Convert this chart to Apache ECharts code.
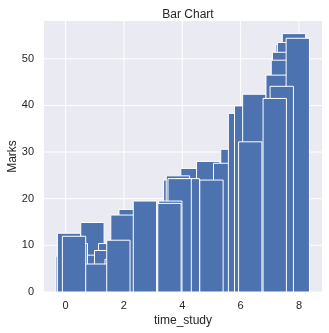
<!DOCTYPE html>
<html>
<head>
<meta charset="utf-8">
<script src="https://cdn.jsdelivr.net/npm/echarts@6/dist/echarts.min.js"></script>
<style>
  html, body { margin: 0; padding: 0; background: #ffffff; }
  #chart { width: 329px; height: 333px; }
</style>
</head>
<body>
<div id="chart"></div>
<script>
// Study time (hours) and marks, listed in the order the bars are drawn
// (later bars sit on top of earlier ones).
const timeStudy = [
  0.07, 0.12, 0.92, 0.35, 1.15, 1.53, 1.39, 1.75, 1.08, 0.29,
  2.23, 1.95, 1.81, 2.72, 4.35, 4.89, 3.76, 3.85, 4.19, 3.91,
  3.59, 3.56, 5.72, 5.47, 5.00, 5.98, 6.19, 6.47, 6.33, 7.83,
  7.61, 7.66, 7.49, 7.45, 7.27, 7.96, 7.41, 7.17
];
const marks = [
  7.7, 12.6, 14.9, 10.4, 7.9, 10.4, 8.9, 7.0, 6.0, 11.95,
  17.7, 16.5, 11.1, 19.5, 26.5, 28.0, 24.0, 24.9, 24.3, 24.3,
  19.5, 19.0, 30.6, 27.6, 24.0, 38.3, 39.9, 42.4, 32.2, 55.4,
  53.1, 53.5, 51.4, 49.7, 46.5, 54.4, 44.1, 41.5
];
const xTicks = [0, 2, 4, 6, 8];
const yTicks = [0, 10, 20, 30, 40, 50];

const xRange = [-0.74, 8.79];
const yRange = [0, 58.1];
const barWidth = 0.8;
const textColor = '#262626';
const font = 'Liberation Sans, Arial, sans-serif';

const chart = echarts.init(document.getElementById('chart'), null, { renderer: 'canvas' });

// Gridlines are drawn as a series so they land exactly on the tick values.
const gridLines = {
  type: 'custom',
  silent: true,
  z: 1,
  data: [0],
  renderItem: function (params, api) {
    const children = [];
    xTicks.forEach(function (v) {
      const a = api.coord([v, yRange[0]]);
      const b = api.coord([v, yRange[1]]);
      children.push({ type: 'line', shape: { x1: a[0], y1: a[1], x2: b[0], y2: b[1] },
        style: { stroke: '#ffffff', lineWidth: 1 } });
    });
    yTicks.forEach(function (v) {
      const a = api.coord([xRange[0], v]);
      const b = api.coord([xRange[1], v]);
      children.push({ type: 'line', shape: { x1: a[0], y1: a[1], x2: b[0], y2: b[1] },
        style: { stroke: '#ffffff', lineWidth: 1 } });
    });
    return { type: 'group', children: children };
  }
};

chart.setOption({
  animation: false,
  backgroundColor: '#ffffff',
  title: {
    text: 'Bar Chart',
    left: 183,
    top: 4,
    textAlign: 'center',
    textStyle: { fontFamily: font, fontSize: 12, fontWeight: 'normal', color: textColor }
  },
  grid: {
    left: 44, right: 7, top: 21, bottom: 41,
    containLabel: false,
    outerBoundsMode: 'none',
    show: true,
    backgroundColor: '#EAEAF2',
    borderWidth: 0
  },
  xAxis: {
    type: 'value',
    min: xRange[0],
    max: xRange[1],
    name: 'time_study',
    nameLocation: 'middle',
    nameGap: 23,
    nameMoveOverlap: false,
    nameTextStyle: { fontFamily: font, fontSize: 12, color: textColor },
    axisLine: { show: false },
    axisTick: { show: false, customValues: xTicks },
    axisLabel: {
      fontFamily: font, fontSize: 11, color: textColor, margin: 8,
      customValues: xTicks
    },
    splitLine: { show: false }
  },
  yAxis: {
    type: 'value',
    min: yRange[0],
    max: yRange[1],
    name: 'Marks',
    nameLocation: 'middle',
    nameGap: 25,
    nameMoveOverlap: false,
    nameTextStyle: { fontFamily: font, fontSize: 12, color: textColor },
    axisLine: { show: false },
    axisTick: { show: false, customValues: yTicks },
    axisLabel: {
      fontFamily: font, fontSize: 11, color: textColor, margin: 10,
      customValues: yTicks
    },
    splitLine: { show: false }
  },
  series: [gridLines, {
    type: 'custom',
    z: 2,
    data: timeStudy.map((t, i) => [t, marks[i]]),
    renderItem: function (params, api) {
      const x = api.value(0);
      const y = api.value(1);
      const topLeft = api.coord([x - barWidth / 2, y]);
      const bottomRight = api.coord([x + barWidth / 2, 0]);
      return {
        type: 'rect',
        shape: {
          x: topLeft[0],
          y: topLeft[1],
          width: bottomRight[0] - topLeft[0],
          height: bottomRight[1] - topLeft[1]
        },
        style: { fill: '#4C72B0', stroke: '#ffffff', lineWidth: 1 }
      };
    },
    clip: true
  }]
});
</script>
</body>
</html>
